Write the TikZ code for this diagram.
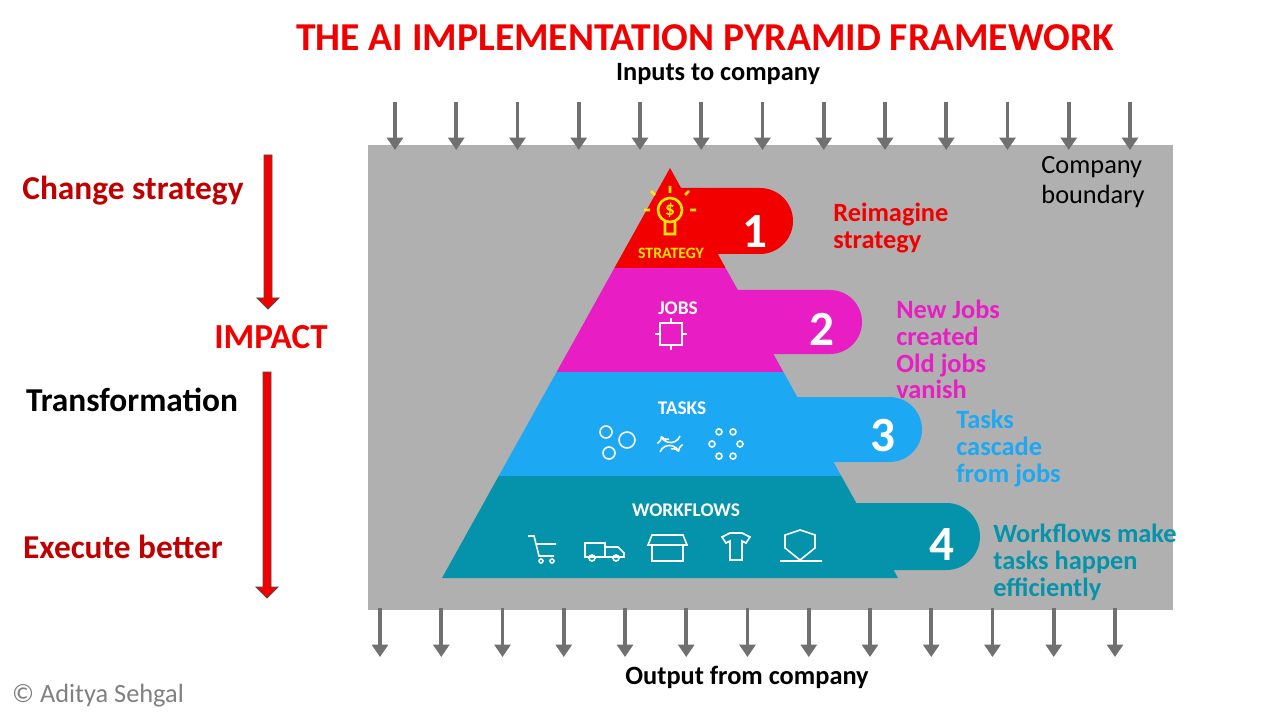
\documentclass[tikz,border=0pt]{standalone}
\usepackage{fontspec}
\setmainfont{Carlito}
\usetikzlibrary{arrows.meta,positioning}
\definecolor{bgray}{HTML}{B0B0B0}
\definecolor{agray}{HTML}{707070}
\definecolor{sred}{HTML}{F20000}
\definecolor{dred}{HTML}{C00000}
\definecolor{jmag}{HTML}{E81EC4}
\definecolor{tblue}{HTML}{1CA8F2}
\definecolor{wteal}{HTML}{0493AA}
\definecolor{byel}{HTML}{FFE500}
\tikzset{
  inarrow/.style={draw=agray, line width=2.2pt, -{Triangle[length=7pt,width=9pt]}},
  bigarrow/.style={draw=black!70, fill=sred, line width=0.5pt},
  lbl/.style={font=\bfseries\fontsize{15}{15.2}\selectfont, align=left, anchor=north west, inner sep=0pt},
  num/.style={font=\bfseries\fontsize{28}{30}\selectfont, text=white},
  lay/.style={font=\bfseries\fontsize{11}{13}\selectfont, text=white},
  ico/.style={draw=white, line width=0.9pt}
}
\begin{document}
\begin{tikzpicture}[x=0.02cm, y=-0.02cm]
        \useasboundingbox (0,0) rectangle (1268,716);
        \fill[white] (0,0) rectangle (1268,716);
        % header
        \node (TT) at (705,38) {\textcolor{sred}{\bfseries\fontsize{22.5}{26}\selectfont THE AI IMPLEMENTATION PYRAMID FRAMEWORK}};
        \node (IN) at (718,74) {\bfseries\fontsize{15}{17}\selectfont Inputs to company};
        % company
        \fill[bgray] (368,145) rectangle (1173,610);
        \node[align=left, font=\fontsize{15}{17}\selectfont] (CB) at (1093,182) {Company\\boundary};
        \foreach \i in {0,...,12} {
          \coordinate (ia\i) at (395+61.25*\i,102);
          \coordinate (ib\i) at (395+61.25*\i,150);
          \draw[inarrow] (ia\i) -- (ib\i);
          \coordinate (oa\i) at (380+61.25*\i,608);
          \coordinate (ob\i) at (380+61.25*\i,657);
          \draw[inarrow] (oa\i) -- (ob\i);
        }
        \node (OUT) at (747,677) {\bfseries\fontsize{15}{17}\selectfont Output from company};
        % tabs
        \fill[sred] (670,188) -- (760,188) arc[start angle=-90, end angle=90, radius=33] -- (670,254) -- cycle;
        \fill[jmag] (700,290) -- (830,290) arc[start angle=-90, end angle=90, radius=32] -- (700,354) -- cycle;
        \fill[tblue] (760,397) -- (889.5,397) arc[start angle=-90, end angle=90, radius=32.5] -- (760,462) -- cycle;
        \fill[wteal] (820,503) -- (946.5,503) arc[start angle=-90, end angle=90, radius=33.5] -- (820,570) -- cycle;
        \node[num] (N1) at (755,232) {1};
        \node[num] (N2) at (822,329) {2};
        \node[num] (N3) at (883,436) {3};
        \node[num] (N4) at (942,545) {4};
        % pyramid
        \fill[sred] (670,168) -- (725.6,268) -- (614.4,268) -- cycle;
        \fill[jmag] (614.4,268) -- (725.6,268) -- (783.4,372) -- (556.6,372) -- cycle;
        \fill[tblue] (556.6,372) -- (783.4,372) -- (841.3,476) -- (498.7,476) -- cycle;
        \fill[wteal] (498.7,476) -- (841.3,476) -- (898,578) -- (442,578) -- cycle;
        \node[lay, text=byel, font=\bfseries\fontsize{9}{10}\selectfont] (ST) at (671,253) {STRATEGY};
        \node[lay] (JB) at (678,308) {JOBS};
        \node[lay] (TK) at (682,408) {TASKS};
        \node[lay] (WF) at (686,510) {WORKFLOWS};
        % icons
        \draw[draw=byel, line width=1.5pt] (670,210) circle (12) (665,222) -- (665,234) -- (675,234) -- (675,222)
          (650,210) -- (644,210) (690,210) -- (696,210) (655,195) -- (651,191) (685,195) -- (689,191) (670,193) -- (670,186);
        \node[text=byel, font=\bfseries\fontsize{11}{11}\selectfont] (DL) at (670,210) {\$};
        \draw[ico] (660,323) rectangle (682,345) (655,334) -- (660,334) (682,334) -- (687,334) (671,318) -- (671,323) (671,345) -- (671,350);
        \foreach \cx/\cy/\r in {606/432/6, 627/440/8, 609/453/6} \draw[ico] (\cx,\cy) circle (\r);
        \draw[ico, ->] (680,436) arc (20:160:10);
        \draw[ico, ->] (660,452) arc (200:340:10);
        \foreach \a in {0,60,...,300} \draw[ico, shift={(726,444)}] (\a:14) circle (3);
        \draw[ico] (528,536) -- (534,536) -- (539,556) -- (554,556) (536,544) -- (556,544) (541,561) circle (2) (552,561) circle (2);
        \draw[ico] (585,543) rectangle (605,557) (605,547) -- (618,547) -- (624,553) -- (624,557) -- (605,557) (592,558) circle (3) (616,558) circle (3);
        \draw[ico] (652,545) rectangle (683,561) (648,545) -- (652,535) -- (683,535) -- (687,545) -- cycle;
        \draw[ico] (722,537) -- (730,533) -- (742,533) -- (750,537) -- (746,543) -- (742,541) -- (742,560) -- (730,560) -- (730,541) -- (726,543) -- cycle;
        \draw[ico] (785,535) -- (800,530) -- (815,535) -- (815,548) -- (800,560) -- (785,548) -- cycle (780,561) -- (822,561);
        % right labels
        \node[lbl, text=sred] (R1) at (833,203) {Reimagine\\strategy};
        \node[lbl, text=jmag] (R2) at (896,300) {New Jobs\\created\\Old jobs\\vanish};
        \node[lbl, text=tblue] (R3) at (956,410) {Tasks\\cascade\\from jobs};
        \node[lbl, text=wteal] (R4) at (993,524) {Workflows make\\tasks happen\\efficiently};
        % left side
        \node[text=dred, font=\bfseries\fontsize{19}{21}\selectfont] (CS) at (133,191) {Change strategy};
        \node[text=sred, font=\bfseries\fontsize{20}{22}\selectfont] (IM) at (271,337) {IMPACT};
        \node[font=\bfseries\fontsize{19}{21}\selectfont] (TR) at (132,400) {Transformation};
        \node[text=dred, font=\bfseries\fontsize{19}{21}\selectfont] (EB) at (123,547) {Execute better};
        \draw[bigarrow] (264,155) -- (272,155) -- (272,298) -- (279,298) -- (268,309) -- (257,298) -- (264,298) -- cycle;
        \draw[bigarrow] (263,372) -- (271,372) -- (271,587) -- (278,587) -- (267,598) -- (256,587) -- (263,587) -- cycle;
        \node[text=gray, font=\fontsize{15}{17}\selectfont] (CP) at (98,696) {© Aditya Sehgal};
\end{tikzpicture}
\end{document}
